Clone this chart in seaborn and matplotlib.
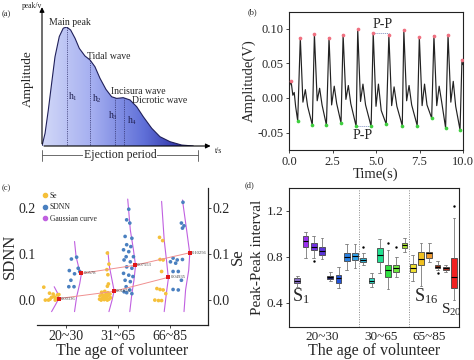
import numpy as np
import pandas as pd
import matplotlib
matplotlib.use("Agg")
import matplotlib.pyplot as plt
import seaborn as sns
from matplotlib.colors import LinearSegmentedColormap
from matplotlib.patches import Polygon
from matplotlib.lines import Line2D
from matplotlib.ticker import FormatStrFormatter

sns.set_theme(style="ticks")
plt.rcParams["font.family"] = ["Liberation Serif", "DejaVu Serif"]
plt.rcParams["mathtext.fontset"] = "custom"
plt.rcParams["mathtext.rm"] = "Liberation Serif"
plt.rcParams["mathtext.it"] = "Liberation Serif:italic"
plt.rcParams["axes.linewidth"] = 0.8
plt.rcParams["axes.edgecolor"] = "#222222"

# ---- (a) schematic pulse wave (t: fraction of ejection period, a: rel. amplitude)
wave_t = [0, 0.02, 0.041, 0.063, 0.085, 0.113, 0.139, 0.161, 0.187, 0.216, 0.244,
          0.281, 0.314, 0.346, 0.379, 0.418, 0.455, 0.488, 0.531, 0.575, 0.619,
          0.662, 0.717, 0.771, 0.837, 0.913, 0.989]
wave_a = [0, 0.107, 0.30, 0.527, 0.75, 0.92, 0.99, 1.0, 0.975, 0.905, 0.82,
          0.756, 0.723, 0.666, 0.569, 0.476, 0.414, 0.40, 0.406, 0.387, 0.33,
          0.246, 0.149, 0.078, 0.036, 0.008, 0.0]
h_t = [0.161, 0.314, 0.477, 0.536]
h_top = [1.0, 0.723, 0.402, 0.405]
h_names = ["1", "2", "3", "4"]

# ---- (b) recorded pulse signal
peak_t = [0.12, 0.65, 1.46, 2.30, 3.11, 3.95, 4.84, 5.74, 6.60, 7.49, 8.33, 9.14, 9.94]
peak_v = [0.024, 0.087, 0.092, 0.087, 0.091, 0.099, 0.094, 0.091, 0.098, 0.088, 0.090, 0.091, 0.055]
trough_t = [0.50, 1.34, 2.15, 2.99, 3.86, 4.72, 5.59, 6.51, 7.37, 8.20, 9.00, 9.83]
trough_v = [-0.033, -0.039, -0.039, -0.036, -0.041, -0.041, -0.038, -0.040, -0.040, -0.029, -0.043, -0.046]
notch_t = [0.22, 0.80, 1.62, 2.45, 3.27, 4.11, 5.00, 5.90, 6.76, 7.65, 8.49, 9.30]
notch_v = [0.004, -0.006, -0.004, -0.010, -0.002, -0.005, -0.012, -0.011, -0.004, -0.011, -0.011, -0.006]
bump_t = [0.30, 0.94, 1.76, 2.60, 3.41, 4.25, 5.14, 6.04, 6.90, 7.79, 8.63, 9.44]
bump_v = [0.008, 0.012, 0.014, 0.017, 0.018, 0.020, 0.020, 0.016, 0.018, 0.020, 0.017, 0.024]
mid_t = [0.38, 1.07, 1.90, 2.74, 3.55, 4.40, 5.30, 6.20, 7.05, 7.93, 8.77, 9.58]
mid_v = [-0.012, -0.012, -0.010, -0.008, -0.008, -0.010, -0.018, -0.012, -0.010, -0.010, -0.005, -0.012]
edge_t = [0.0, 10.0]
edge_v = [0.016, 0.048]

# ---- (c) SDNN / Se by age group
age_groups = ["20~30", "31~65", "66~85"]
se_x = [-0.39, -0.33, -0.30, -0.27, -0.22, -0.19, -0.16, -0.24, -0.13, -0.42, -0.31, -0.20,
        0.65, 0.68, 0.71, 0.74, 0.77, 0.80, 0.83, 0.86, 0.66, 0.70, 0.73, 0.76, 0.79, 0.82,
        0.85, 0.69, 0.75, 0.81, 0.72, 0.78, 0.80, 0.82, 0.81, 0.79, 0.83, 0.80,
        1.80, 1.86, 1.81, 1.87, 1.84, 1.75, 1.81, 1.87, 1.92, 1.71, 1.78, 1.84]
se_y = [0.0, 0.0, 0.002, 0.006, 0.007, 0.004, 0.011, 0.013, 0.012, 0.028, 0.015, 0.0,
        0.002, 0.0, 0.004, 0.001, 0.003, 0.0, 0.002, 0.005, 0.009, 0.012, 0.008, 0.011, 0.007, 0.010,
        0.013, 0.017, 0.019, 0.016, 0.005, 0.014, 0.030, 0.035, 0.055, 0.066, 0.078, 0.102,
        0.136, 0.129, 0.088, 0.087, 0.062, 0.025, 0.023, 0.022, 0.014, 0.0, -0.001, -0.001]
sdnn_x = [0.11, 0.21, 0.07, 0.17, 0.10, 0.06, 0.16, 0.24, 0.27,
          1.21, 1.17, 1.23, 1.14, 1.27, 1.17, 1.25, 1.11, 1.21, 1.16, 1.30, 1.12, 1.24,
          1.17, 1.27, 1.11, 1.21, 1.29, 1.14, 1.24, 1.16, 1.23, 1.17, 1.12, 1.27,
          2.25, 2.22, 2.27, 2.24, 2.06, 2.14, 2.24, 2.01, 2.11, 2.06, 2.16, 2.22, 2.06, 2.16]
sdnn_y = [0.089, 0.093, 0.064, 0.057, 0.043, 0.029, 0.029, 0.069, 0.062,
          0.197, 0.174, 0.167, 0.138, 0.134, 0.120, 0.116, 0.109, 0.105, 0.094, 0.094, 0.087, 0.083,
          0.072, 0.069, 0.058, 0.054, 0.051, 0.043, 0.040, 0.029, 0.022, 0.016, 0.018, 0.014,
          0.212, 0.167, 0.161, 0.156, 0.091, 0.087, 0.088, 0.083, 0.080, 0.062, 0.062, 0.043, 0.023, 0.022]
gauss_x = [[-0.27, -0.19, -0.13, -0.15, -0.22],
           [0.17, 0.20, 0.25, 0.30, 0.27, 0.21, 0.17],
           [0.81, 0.84, 0.89, 0.93, 0.89, 0.83],
           [1.19, 1.24, 1.30, 1.34, 1.31, 1.27, 1.23],
           [1.84, 1.89, 1.94, 1.97, 1.94, 1.89],
           [2.24, 2.32, 2.38, 2.36, 2.30, 2.27]]
gauss_y = [[-0.025, -0.009, 0.004, 0.014, 0.029],
           [0.127, 0.094, 0.071, 0.056, 0.036, 0.007, -0.025],
           [0.105, 0.072, 0.043, 0.020, 0.0, -0.025],
           [0.219, 0.152, 0.109, 0.075, 0.043, 0.014, -0.025],
           [0.214, 0.130, 0.080, 0.047, 0.022, -0.025],
           [0.217, 0.152, 0.101, 0.065, 0.022, -0.025]]
se_mean_x = [-0.13, 0.92, 1.97]
se_mean_y = [0.0034, 0.0188, 0.0494]
se_mean_lbl = ["0.00336", "0.01876", "0.04935"]
sdnn_mean_x = [0.30, 1.33, 2.38]
sdnn_mean_y = [0.0578, 0.0755, 0.1026]
sdnn_mean_lbl = ["0.0578", "0.07553", "0.10256"]

# ---- (d) peak-peak interval per subject (five-number summaries)
d_lo = [0.542, 0.794, 0.788, 0.780, 0.594, 0.528, 0.687, 0.701, 0.730, 0.542,
        0.658, 0.519, 0.623, 0.846, 0.594, 0.551, 0.759, 0.687, 0.672, 0.426]
d_q1 = [0.577, 0.890, 0.861, 0.817, 0.612, 0.577, 0.768, 0.774, 0.759, 0.571,
        0.759, 0.629, 0.672, 0.875, 0.672, 0.730, 0.788, 0.701, 0.687, 0.528]
d_med = [0.594, 0.942, 0.890, 0.852, 0.623, 0.614, 0.803, 0.809, 0.777, 0.594,
         0.817, 0.687, 0.701, 0.904, 0.707, 0.780, 0.832, 0.716, 0.701, 0.623]
d_q3 = [0.614, 0.983, 0.925, 0.884, 0.635, 0.643, 0.832, 0.838, 0.791, 0.620,
        0.875, 0.730, 0.730, 0.925, 0.739, 0.846, 0.846, 0.730, 0.716, 0.788]
d_hi = [0.635, 1.020, 0.983, 0.962, 0.672, 0.716, 0.913, 0.913, 0.832, 0.658,
        0.954, 0.861, 0.803, 0.962, 0.817, 0.919, 0.925, 0.768, 0.730, 1.136]
out_subj = [2, 8, 11, 12, 17, 19]
out_val = [0.768, 0.890, 0.925, 0.884, 0.664, 1.243]
box_colors = ["#8a70c8", "#9b30f0", "#7030e0", "#5a35d8", "#1c1c6a", "#2255dd",
              "#2a80e0", "#30a0e8", "#30b8d8", "#30d8c0", "#20e090", "#30e040",
              "#70e840", "#a8e030", "#f0e030", "#f0c020", "#f09a30", "#8a2a10",
              "#b03020", "#f02020"]
d_groups = ["20~30", "30~65", "65~85"]
d_group_pos = [3.0, 10.2, 16.0]

W, H = 474, 360
fig = plt.figure(figsize=(W / 100, H / 100), dpi=100)

# =============== (a)
ax_a = fig.add_axes([42 / W, 1 - 146 / H, 153 / W, 119 / H])
cmap = LinearSegmentedColormap.from_list("pw", ["#d2d8f8", "#a4aef0", "#6070d8", "#1c1c96"])
outline = Polygon(np.column_stack([wave_t, wave_a]), closed=True, facecolor="none", edgecolor="none")
ax_a.add_patch(outline)
im = ax_a.imshow(np.linspace(0, 1, 256)[None, :], extent=[0, 1, 0, 1.02], aspect="auto",
                 cmap=cmap, origin="lower", zorder=1)
im.set_clip_path(outline)
sns.lineplot(x=wave_t, y=wave_a, ax=ax_a, color="#20205a", lw=0.8, estimator=None, zorder=3)
for t, top in zip(h_t, h_top):
    ax_a.plot([t, t], [0, top], color="#30306a", lw=0.6, ls=(0, (1, 1.2)), zorder=2)
ax_a.plot([0, 0.04], [1.017, 1.017], color="#666666", lw=0.6, ls=(0, (1, 1.2)))
for t, lbl, (hx, hy) in zip(h_t, h_names, [(0.17, 0.41), (0.33, 0.395), (0.43, 0.25), (0.555, 0.21)]):
    ax_a.text(hx, hy, r"$\mathregular{h_%s}$" % lbl, fontsize=7, color="#202050", va="center")
ax_a.text(0.046, 1.04, "Main peak", fontsize=7, va="center")
ax_a.text(0.294, 0.75, "Tidal wave", fontsize=7, va="center")
ax_a.text(0.45, 0.46, "Incisura wave", fontsize=7, va="center")
ax_a.text(0.59, 0.38, "Dicrotic wave", fontsize=7, va="center")
ax_a.annotate("", xy=(0, 1.19), xytext=(0, -0.005), annotation_clip=False,
              arrowprops=dict(arrowstyle="-|>", color="black", lw=0.8, mutation_scale=7))
ax_a.annotate("", xy=(1.12, 0), xytext=(-0.005, 0), annotation_clip=False,
              arrowprops=dict(arrowstyle="-|>", color="black", lw=0.8, mutation_scale=7))
ax_a.text(-0.13, 1.18, "peak/v", fontsize=5.5, va="center")
ax_a.text(1.13, -0.04, "t/s", fontsize=5.5, va="center")
ax_a.text(-0.09, 0.57, "Amplitude", fontsize=9.5, rotation=90, ha="center", va="center")
ax_a.plot([0, 1.02], [-0.076, -0.076], color="#555555", lw=0.6, clip_on=False)
for t in [0, 1.02]:
    ax_a.plot([t, t], [-0.03, -0.13], color="#555555", lw=0.6, clip_on=False)
ax_a.text(0.51, -0.076, "Ejection period", fontsize=8.5, ha="center", va="center",
          bbox=dict(facecolor="white", edgecolor="none", pad=0.5))
ax_a.set_xlim(0, 1)
ax_a.set_ylim(0, 1)
ax_a.axis("off")

# =============== (b)
ax_b = fig.add_axes([289 / W, 1 - 150 / H, 174 / W, 138 / H])
trace = pd.DataFrame({
    "t": peak_t + trough_t + notch_t + bump_t + mid_t + edge_t,
    "v": peak_v + trough_v + notch_v + bump_v + mid_v + edge_v,
}).sort_values("t")
sns.lineplot(data=trace, x="t", y="v", ax=ax_b, color="#222222", lw=0.85, estimator=None)
sns.scatterplot(x=peak_t, y=peak_v, ax=ax_b, color="#f07080", s=7, linewidth=0, zorder=3)
sns.scatterplot(x=trough_t, y=trough_v, ax=ax_b, color="#3ecf3e", s=7, linewidth=0, zorder=3)
ax_b.plot([peak_t[6], peak_t[7]], [peak_v[6], peak_v[6]], color="#8090c0", lw=0.7, ls=(0, (1, 1)))
ax_b.plot([trough_t[4], trough_t[5]], [trough_v[4], trough_v[4]], color="#8090c0", lw=0.7, ls=(0, (1, 1)))
ax_b.text(5.39, 0.106, "P-P", fontsize=10, ha="center", va="center")
ax_b.text(4.25, -0.054, "P-P", fontsize=10, ha="center", va="center")
ax_b.set_xlim(0, 10)
ax_b.set_ylim(-0.075, 0.124)
ax_b.set_xticks([0, 2.5, 5, 7.5, 10])
ax_b.set_yticks([-0.05, 0, 0.05, 0.10])
ax_b.xaxis.set_major_formatter(FormatStrFormatter("%.1f"))
ax_b.yaxis.set_major_formatter(FormatStrFormatter("%.2f"))
ax_b.tick_params(labelsize=9, length=2.5, width=0.6, pad=1.5)
ax_b.set_xlabel("Time(s)", fontsize=10.5, labelpad=0)
ax_b.set_ylabel("Amplitude(V)", fontsize=10.5, labelpad=1)

# =============== (c)
ax_c = fig.add_axes([37 / W, 1 - 325 / H, 171 / W, 137 / H])
pts = pd.DataFrame({
    "x": se_x + sdnn_x,
    "y": se_y + sdnn_y,
    "kind": ["Se"] * len(se_x) + ["SDNN"] * len(sdnn_x),
})
pal_c = {"Se": "#f5c03a", "SDNN": "#4a80c0"}
purple = "#c060e0"
sns.scatterplot(data=pts, x="x", y="y", hue="kind", palette=pal_c, s=7, linewidth=0,
                legend=False, ax=ax_c, zorder=3)
for gx, gy in zip(gauss_x, gauss_y):
    sns.lineplot(x=gx, y=gy, ax=ax_c, color=purple, lw=0.8, sort=False, estimator=None, zorder=2)
for mx, my, lbls in [(se_mean_x, se_mean_y, se_mean_lbl), (sdnn_mean_x, sdnn_mean_y, sdnn_mean_lbl)]:
    sns.lineplot(x=mx, y=my, ax=ax_c, color="#f09090", lw=0.7, estimator=None, zorder=4)
    sns.scatterplot(x=mx, y=my, ax=ax_c, color="#e01818", marker="s", s=6, linewidth=0, zorder=5)
    for x, y, l in zip(mx, my, lbls):
        ax_c.text(x + 0.04, y, l, fontsize=3.3, va="center", color="#444444", zorder=6)
ax_c.set_xlim(-0.55, 2.73)
ax_c.set_ylim(-0.054, 0.243)
ax_c.set_xticks([0, 1, 2])
ax_c.set_xticklabels(age_groups)
ax_c.set_yticks([0, 0.1, 0.2])
ax_c.yaxis.set_major_formatter(FormatStrFormatter("%.1f"))
ax_c.tick_params(labelsize=10, length=2.5, width=0.6, pad=1)
ax_c.tick_params(axis="y", length=0)
ax_c.set_xlabel("The age of volunteer", fontsize=11.5, labelpad=0)
ax_c.set_ylabel("SDNN", fontsize=12, labelpad=0)
ax_c.spines["top"].set_visible(False)
ax_c.spines["left"].set_visible(False)
ax_c2 = ax_c.twinx()
ax_c2.set_ylim(-0.054, 0.243)
ax_c2.set_yticks([0, 0.1, 0.2])
ax_c2.yaxis.set_major_formatter(FormatStrFormatter("%.1f"))
ax_c2.tick_params(labelsize=10, length=2.5, width=0.6, pad=1)
ax_c2.set_ylabel("Se", fontsize=12, labelpad=0)
ax_c2.spines["top"].set_visible(False)
ax_c2.spines["left"].set_visible(False)
handles = [Line2D([], [], marker="o", ls="none", color=pal_c["Se"], markersize=3),
           Line2D([], [], marker="o", ls="none", color=pal_c["SDNN"], markersize=3),
           Line2D([], [], marker="o", ls="none", color=purple, markersize=3)]
ax_c.legend(handles, ["Se", "SDNN", "Gaussian curve"], loc="upper left", frameon=False,
            fontsize=5.5, handletextpad=0.2, labelspacing=0.45, borderaxespad=0.3,
            handlelength=1.0, borderpad=0.2)

# =============== (d)
ax_d = fig.add_axes([289 / W, 1 - 327 / H, 170 / W, 139 / H])
n_subj = len(d_med)
box_df = pd.DataFrame({
    "subj": [i for i in range(n_subj) for _ in range(5)],
    "ppi": [v for i in range(n_subj) for v in (d_lo[i], d_q1[i], d_med[i], d_q3[i], d_hi[i])],
})
sns.boxplot(data=box_df, x="subj", y="ppi", hue="subj", palette=box_colors, order=list(range(n_subj)),
            hue_order=list(range(n_subj)), whis=(0, 100), width=0.7, linewidth=0.6,
            linecolor="#444444", saturation=1, legend=False, showfliers=False, ax=ax_d,
            medianprops={"color": "black", "linewidth": 0.8},
            whiskerprops={"color": "#777777"}, capprops={"color": "#777777"})
sns.scatterplot(x=out_subj, y=out_val, ax=ax_d, color="black", s=3, linewidth=0, zorder=4)
for xv in [7.5, 13.5]:
    ax_d.axvline(xv, color="#888888", lw=0.7, ls=(0, (1, 1.5)))
ax_d.text(-0.65, 0.455, r"$\mathregular{S_1}$", fontsize=13, va="center")
ax_d.text(14.1, 0.455, r"$\mathregular{S_{16}}$", fontsize=13, va="center")
ax_d.text(17.4, 0.34, r"$\mathregular{S_{20}}$", fontsize=11, va="center")
ax_d.set_xlim(-1.0, 19.6)
ax_d.set_ylim(0.19, 1.40)
ax_d.set_xticks(d_group_pos)
ax_d.set_xticklabels(d_groups)
ax_d.set_yticks([0.4, 0.8, 1.2])
ax_d.yaxis.set_major_formatter(FormatStrFormatter("%.1f"))
ax_d.tick_params(axis="y", labelsize=9.5, length=2.5, width=0.6, pad=1.5)
ax_d.tick_params(axis="x", labelsize=9.5, length=0, pad=3)
ax_d.set_xlabel("The age of volunteer", fontsize=11.5, labelpad=0)
ax_d.set_ylabel("Peak-Peak interval", fontsize=11, labelpad=2)

for lbl, (px, py) in zip(["(a)", "(b)", "(c)", "(d)"], [(2, 14), (248, 12), (2, 188), (245, 185)]):
    fig.text(px / W, 1 - py / H, lbl, fontsize=6, va="center")

fig.savefig("out.png", dpi=100)
